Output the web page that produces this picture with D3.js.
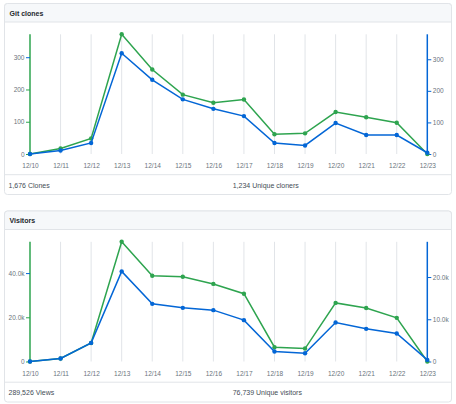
<!DOCTYPE html>
<html>
<head>
<meta charset="utf-8">
<script src="https://cdn.jsdelivr.net/npm/d3@7"></script>
<style>
  body { margin: 0; background: #fff; }
  svg { display: block; font-family: "Liberation Sans", Arial, sans-serif; }
</style>
</head>
<body>
<script>
var days = ['12/10', '12/11', '12/12', '12/13', '12/14', '12/15', '12/16',
            '12/17', '12/18', '12/19', '12/20', '12/21', '12/22', '12/23'];

// clones: total (green, left axis) and unique (blue, right axis)
var cloneCounts = [0, 17, 48, 371, 262, 184, 159, 169, 61, 64, 130, 114, 97, 0];
var cloneUniques = [0, 11, 35, 319, 235, 173, 143, 120, 35, 27, 98, 60, 60, 4];
var cloneLeftTicks = [0, 100, 200, 300];
var cloneRightTicks = [0, 100, 200, 300];

// visitors: views (green, left axis) and unique visitors (blue, right axis)
var viewCounts = [0, 1350, 8390, 54150, 38790, 38340, 35100, 30670, 6450, 5860, 26500, 24180, 19746, 0];
var viewUniques = [0, 710, 4400, 21330, 13650, 12700, 12160, 9790, 2370, 1970, 9240, 7730, 6630, 380];
var viewLeftTicks = [0, 20000, 40000];
var viewRightTicks = [0, 10000, 20000];

var green = '#2ea44f', blue = '#0366d6';

var svg = d3.select('body').append('svg')
    .attr('width', 456)
    .attr('height', 404);

var x = d3.scalePoint()
    .domain(days)
    .range([30, 427.3]);

function kfmt(d) {
    return d === 0 ? '0' : (d / 1000).toFixed(1) + 'k';
}

function panel(top, title, counts, uniques, leftMax, rightMax, leftTicks, rightTicks, fmt, foot1, foot2) {
    var g = svg.append('g').attr('transform', 'translate(0,' + top + ')');
    var H = 191;

    g.append('rect')
        .attr('x', 4.5).attr('y', 0.5)
        .attr('width', 447).attr('height', H)
        .attr('rx', 3)
        .attr('fill', '#fff')
        .attr('stroke', '#e1e4e8');
    g.append('path')
        .attr('d', 'M4.5,19 V3.5 a3,3 0 0 1 3,-3 H448.5 a3,3 0 0 1 3,3 V19 Z')
        .attr('fill', '#f6f8fa')
        .attr('stroke', '#e1e4e8');
    g.append('text')
        .attr('x', 9.5).attr('y', 12.6)
        .attr('font-size', 7)
        .attr('font-weight', 'bold')
        .attr('fill', '#24292e')
        .text(title);

    var plotTop = 31.3, base = 151;
    var yl = d3.scaleLinear().domain([0, leftMax]).range([base, plotTop]);
    var yr = d3.scaleLinear().domain([0, rightMax]).range([base, plotTop]);

    // vertical grid lines
    g.selectAll('line.grid')
        .data(days.slice(1, -1))
        .enter().append('line')
        .attr('class', 'grid')
        .attr('x1', function(d) { return x(d); })
        .attr('x2', function(d) { return x(d); })
        .attr('y1', plotTop)
        .attr('y2', base)
        .attr('stroke', '#e1e4e8')
        .attr('stroke-width', 1);

    // x labels
    var xAxis = d3.axisBottom(x).tickSize(0).tickPadding(0);
    var xg = g.append('g')
        .attr('transform', 'translate(0,' + (base + 14.3) + ')')
        .call(xAxis);
    xg.select('.domain').remove();
    xg.selectAll('text')
        .attr('dy', 0)
        .attr('font-size', 6.5)
        .attr('font-family', '"Liberation Sans", Arial, sans-serif')
        .attr('fill', '#6a737d');

    // left axis
    var la = g.append('g')
        .attr('transform', 'translate(30,0)')
        .call(d3.axisLeft(yl).tickValues(leftTicks).tickFormat(fmt).tickSize(4).tickPadding(1.5));
    la.select('.domain')
        .attr('d', 'M0,' + plotTop + 'V' + base)
        .attr('stroke', green)
        .attr('stroke-width', 1.5);
    la.selectAll('.tick line').attr('stroke', green);
    la.selectAll('.tick line').filter(function(d, i) { return i === leftTicks.length - 1; })
        .attr('stroke', blue);
    la.selectAll('text')
        .attr('font-size', 6.5)
        .attr('font-family', '"Liberation Sans", Arial, sans-serif')
        .attr('fill', '#6a737d');

    // right axis
    var ra = g.append('g')
        .attr('transform', 'translate(427.3,0)')
        .call(d3.axisRight(yr).tickValues(rightTicks).tickFormat(fmt).tickSize(4).tickPadding(1.5));
    ra.select('.domain')
        .attr('d', 'M0,' + plotTop + 'V' + base)
        .attr('stroke', blue)
        .attr('stroke-width', 1.5);
    ra.selectAll('.tick line').attr('stroke', blue);
    ra.selectAll('text')
        .attr('font-size', 6.5)
        .attr('font-family', '"Liberation Sans", Arial, sans-serif')
        .attr('fill', '#6a737d');

    function series(vals, y, color) {
        var line = d3.line()
            .x(function(d, i) { return x(days[i]); })
            .y(function(d) { return y(d); });
        g.append('path')
            .datum(vals)
            .attr('d', line)
            .attr('fill', 'none')
            .attr('stroke', color)
            .attr('stroke-width', 1.5);
        g.append('g').selectAll('circle')
            .data(vals)
            .enter().append('circle')
            .attr('cx', function(d, i) { return x(days[i]); })
            .attr('cy', function(d) { return y(d); })
            .attr('r', 2.2)
            .attr('fill', color);
    }
    series(counts, yl, green);
    series(uniques, yr, blue);

    // footer
    g.append('line')
        .attr('x1', 4.5).attr('x2', 451.5)
        .attr('y1', 171.7).attr('y2', 171.7)
        .attr('stroke', '#e1e4e8');
    g.append('text')
        .attr('x', 8.5).attr('y', 184.8)
        .attr('font-size', 7)
        .attr('fill', '#444d56')
        .text(foot1);
    g.append('text')
        .attr('x', 232.7).attr('y', 184.8)
        .attr('font-size', 7)
        .attr('fill', '#444d56')
        .text(foot2);
}

panel(3, 'Git clones', cloneCounts, cloneUniques, 371, 379,
      cloneLeftTicks, cloneRightTicks, d3.format('d'),
      '1,676 Clones', '1,234 Unique cloners');
panel(210.5, 'Visitors', viewCounts, viewUniques, 54150, 28340,
      viewLeftTicks, viewRightTicks, kfmt,
      '289,526 Views', '76,739 Unique visitors');
</script>
</body>
</html>
